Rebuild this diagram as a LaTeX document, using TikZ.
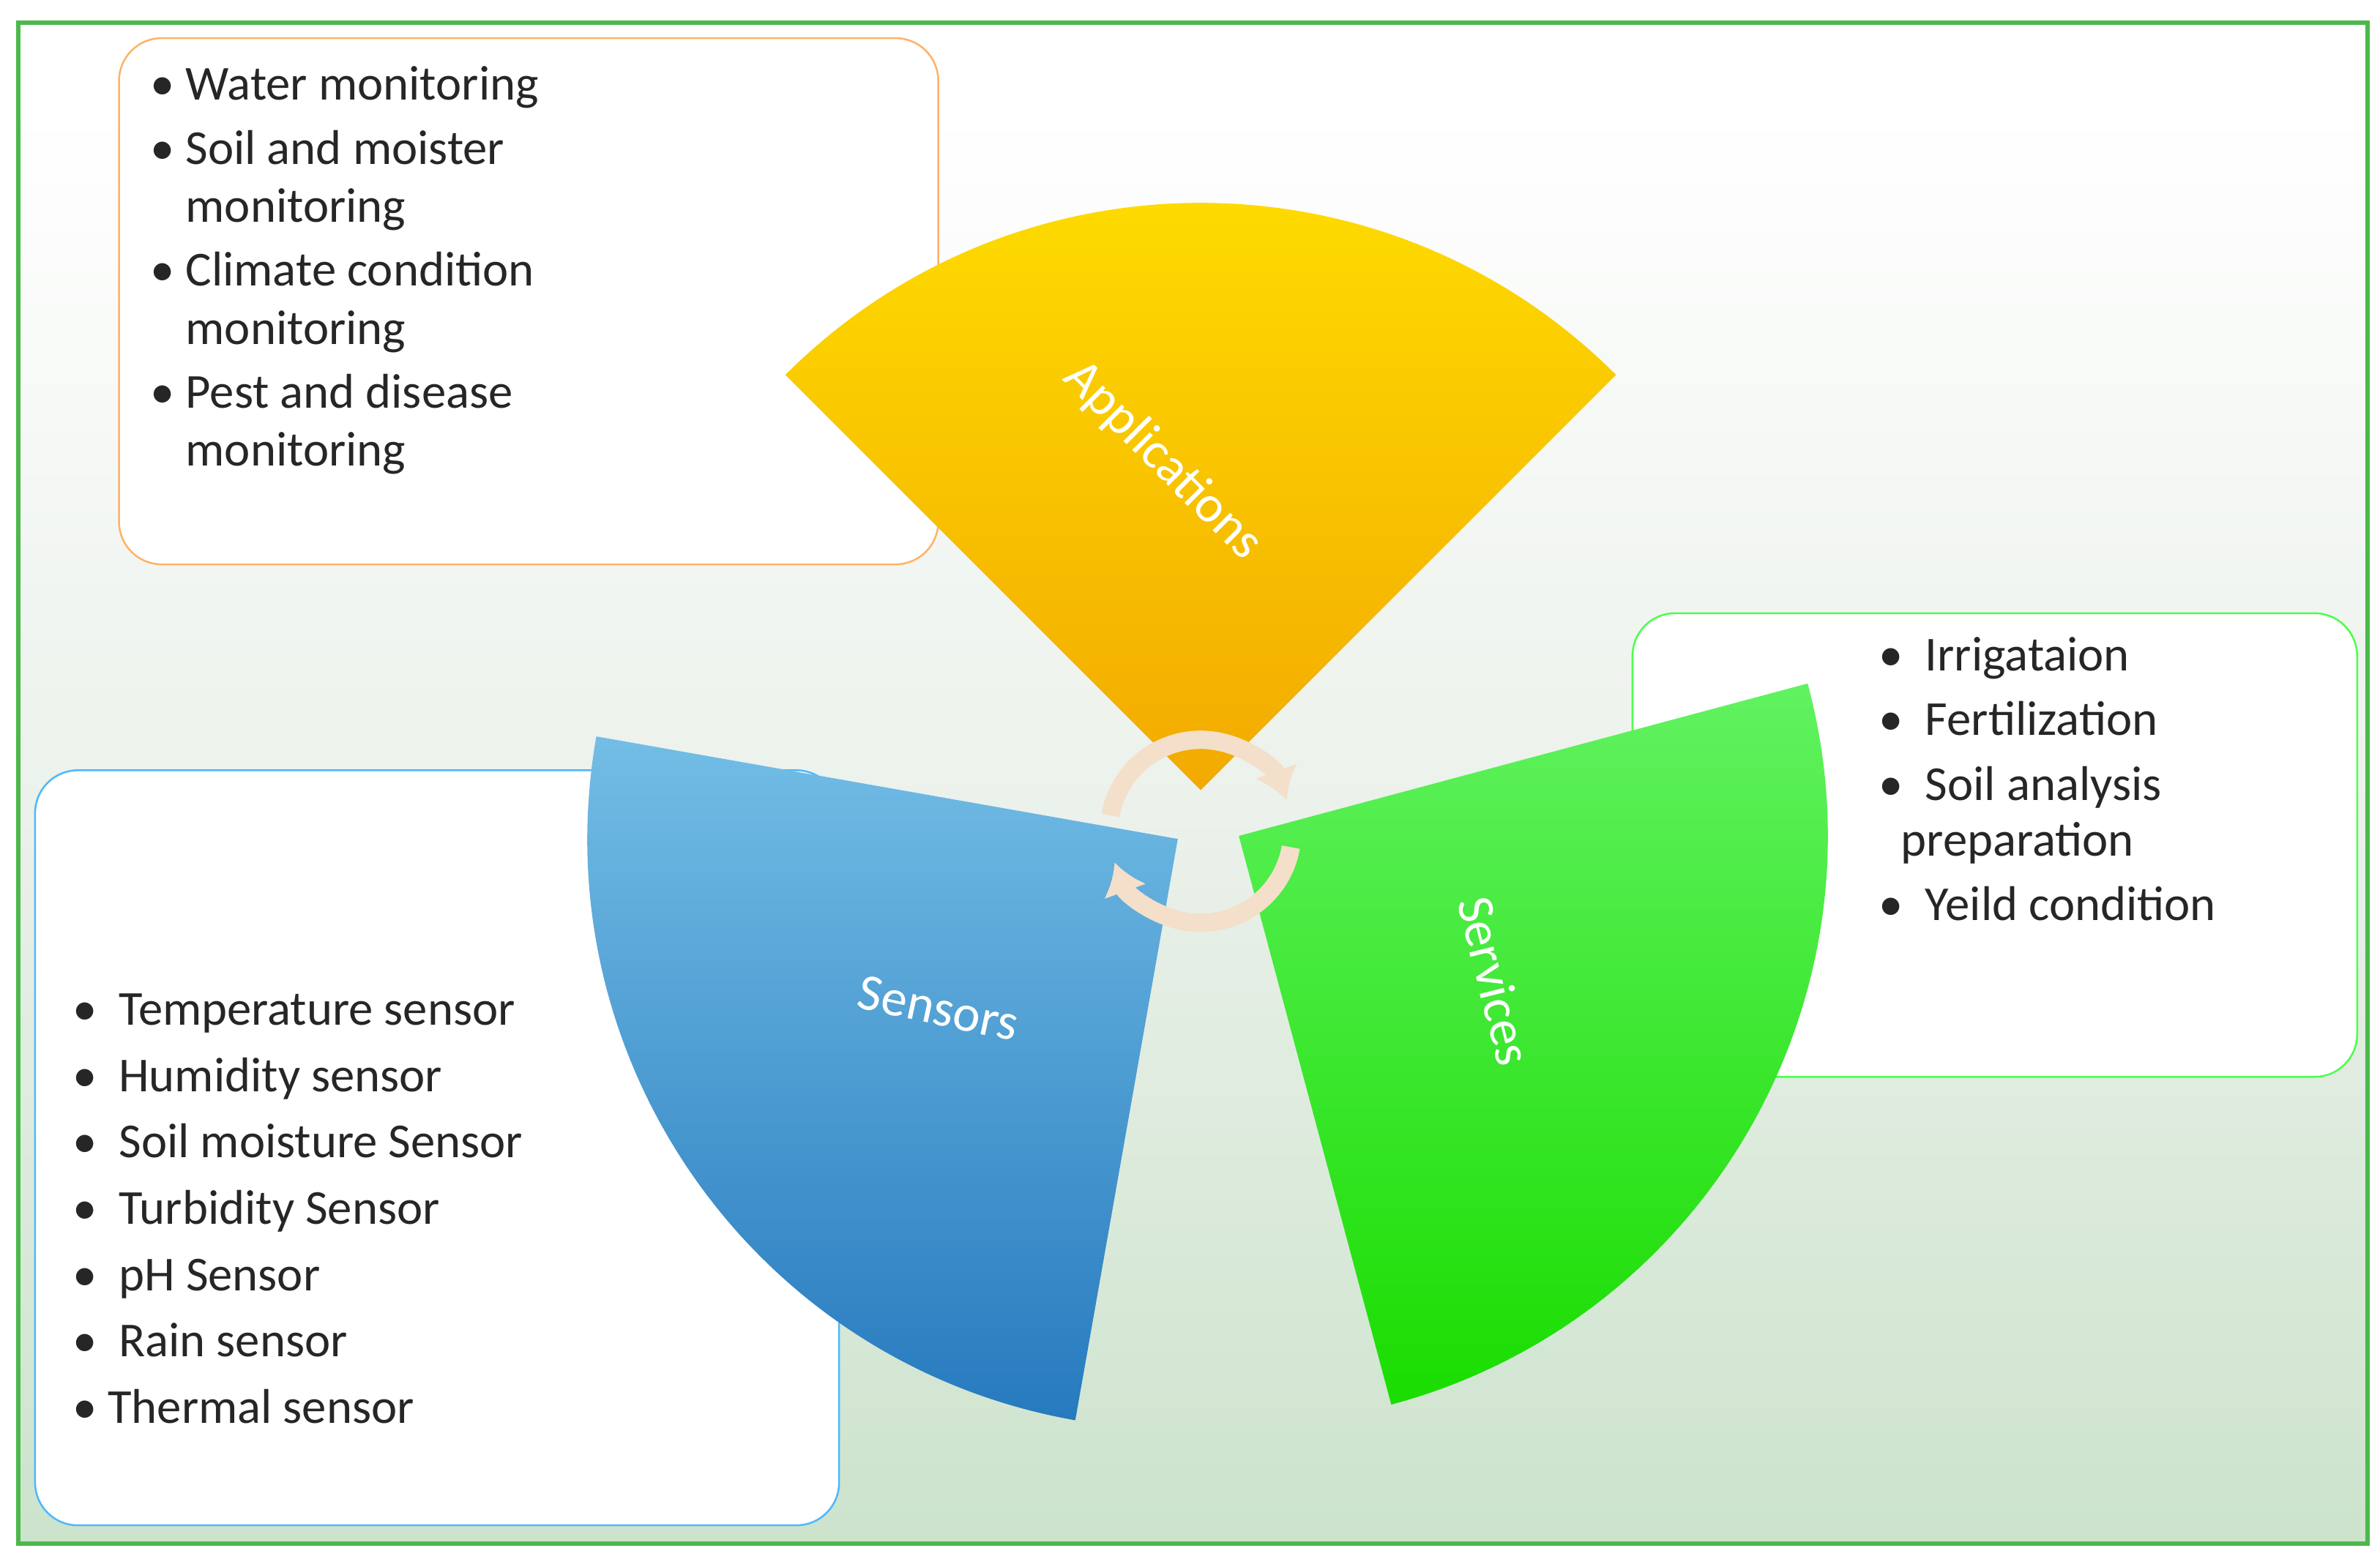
\documentclass[tikz,border=0pt]{standalone}
\usepackage{fontspec}
\setmainfont{Carlito}
\usetikzlibrary{arrows.meta}
\begin{document}
\begin{tikzpicture}[x=1pt,y=-1pt,
  box/.style={rounded corners=28pt,fill=white,line width=1.2pt},
  lst/.style={anchor=north west,align=left,font=\fontsize{32}{38}\selectfont,text=black!85},
  lbl/.style={text=white,font=\fontsize{34}{38}\selectfont},
  cyc/.style={line width=12pt,draw=orange!30!brown!25,-{Latex[length=20pt,width=30pt]}}]
\useasboundingbox (0,0) rectangle (1560,1022);
\fill[white] (0,0) rectangle (1560,1022);
\shade[top color=white,bottom color=green!45!black!20!white,middle color=green!30!black!8!white] (12,70) rectangle (1552,1012);
\fill[white] (12,15) rectangle (1552,70);
\draw[green!60!black!70,line width=3pt] (12,15) rectangle (1552,1012);
% boxes
\draw[box,draw=orange!60] (78,25) rectangle (615,370);
\draw[box,draw=green!70] (1070,402) rectangle (1545,706);
\draw[box,draw=blue!40!cyan!70] (23,505) rectangle (550,1000);
% sectors
\shade[top color=yellow!75!orange,bottom color=orange!60!yellow!95!black]
  (787,518) -- ++(-135:385) arc[start angle=-135,end angle=-45,radius=385] -- cycle;
\shade[top color=blue!35!cyan!50!white!90!black,bottom color=blue!45!cyan!70!black!85]
  (772,550) -- ++(-170:387) arc[start angle=-170,end angle=-260,radius=387] -- cycle;
\shade[top color=green!60!white!95!black,bottom color=green!85!black!90!yellow]
  (812,548) -- ++(-15:386) arc[start angle=-15,end angle=75,radius=386] -- cycle;
% cycle arrows
\coordinate (cc) at (787,545);
\draw[cyc] ([shift={(-170:60)}]cc) arc[start angle=-170,end angle=-20,radius=60];
\draw[cyc] ([shift={(10:60)}]cc) arc[start angle=10,end angle=160,radius=60];
% labels
\node[lbl,rotate=-45] (app) at (762,302) {Applications};
\node[lbl,rotate=-12] (sen) at (615,661) {Sensors};
\node[lbl,rotate=-76] (ser) at (980,643) {Services};
% lists
\node[lst] (l1) at (95,40) {\textbullet\ Water monitoring\\[4pt]
\textbullet\ Soil and moister\\\phantom{\textbullet\ }monitoring\\[4pt]
\textbullet\ Climate condition\\\phantom{\textbullet\ }monitoring\\[4pt]
\textbullet\ Pest and disease\\\phantom{\textbullet\ }monitoring};
\node[lst,font=\fontsize{32}{42.5}\selectfont] (l2) at (1228,414) {\textbullet\ \ Irrigataion\\
\textbullet\ \ Fertilization\\
\textbullet\ \ Soil analysis\\[-6pt]
\ \ preparation\\
\textbullet\ \ Yeild condition};
\node[lst,font=\fontsize{32}{43.5}\selectfont] (l3) at (44,648) {\textbullet\ \ Temperature sensor\\
\textbullet\ \ Humidity sensor\\
\textbullet\ \ Soil moisture Sensor\\
\textbullet\ \ Turbidity Sensor\\
\textbullet\ \ pH Sensor\\
\textbullet\ \ Rain sensor\\
\textbullet\ Thermal sensor};
\end{tikzpicture}
\end{document}
